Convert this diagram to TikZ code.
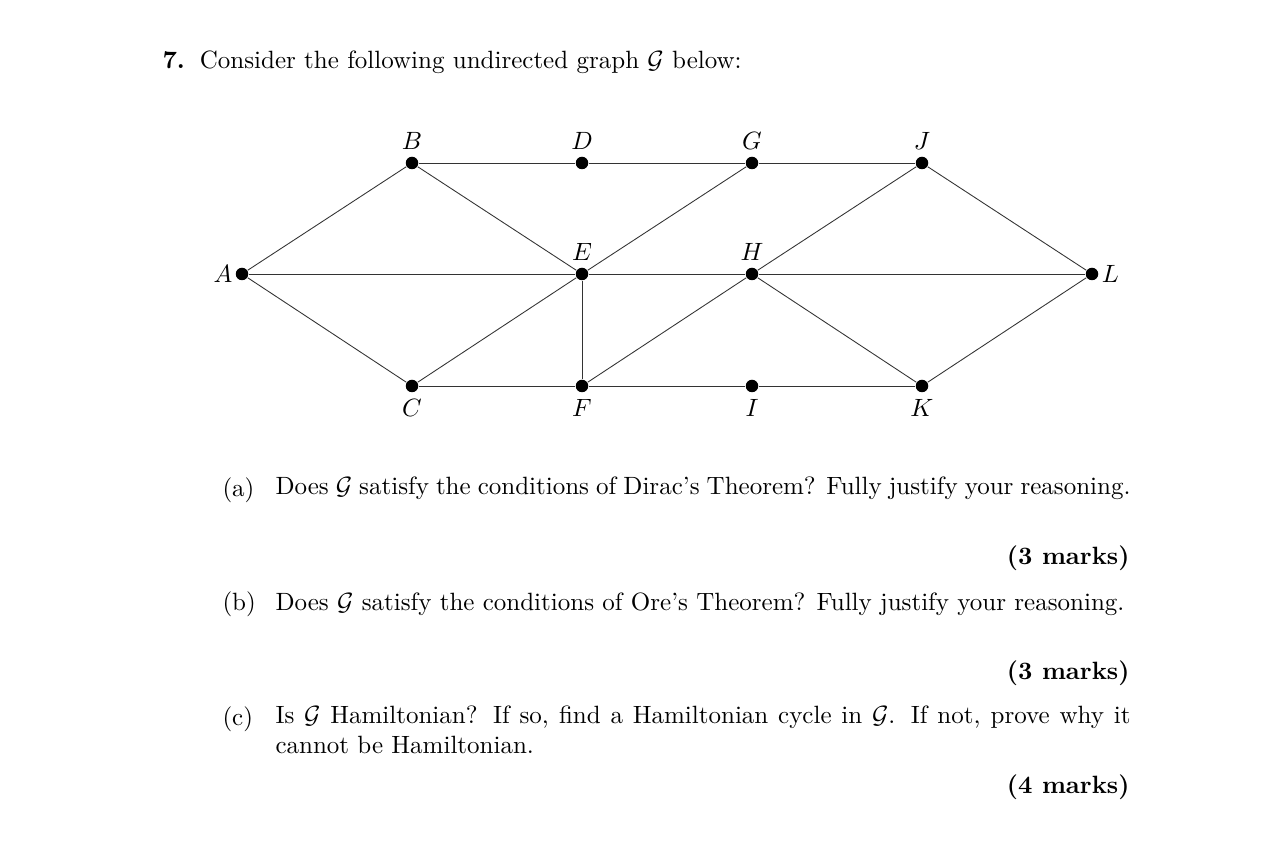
\documentclass[tikz,border=0pt]{standalone}
\usepackage{amsmath}
\begin{document}
\begin{tikzpicture}[x=0.4pt,y=-0.4pt,
  vtx/.style={circle,fill=black,inner sep=0pt,minimum size=5pt},
  edge/.style={draw=black!80,line width=0.35pt},
  txt/.style={inner sep=0pt,anchor=base west},
  para/.style={inner sep=0pt,anchor=north west,text width=342pt,align=justify}]
\useasboundingbox (0,0) rectangle (1280,857);
\foreach \n/\x/\y in {A/242/274,B/412/163,D/582/163,G/752/163,J/922/163,E/582/274,H/752/274,L/1092/274,C/412/386,F/582/386,I/752/386,K/922/386}
  \node[vtx] (\n) at (\x,\y) {};
\foreach \n in {B,D,G,J,E,H} \node[inner sep=1pt,anchor=south] (l\n) at ([yshift=1.5pt]\n.north) {$\n$};
\foreach \n in {C,F,I,K} \node[inner sep=1pt,anchor=north] (l\n) at ([yshift=-1.5pt]\n.south) {$\n$};
\node[inner sep=1pt,anchor=east] (lA) at (A.west) {$A$};
\node[inner sep=1pt,anchor=west] (lL) at (L.east) {$L$};
\foreach \a/\b in {B/D,D/G,G/J,A/B,A/E,E/H,H/L,A/C,B/E,E/G,C/E,E/F,C/F,F/H,H/J,H/K,J/L,K/L,F/I,I/K}
  \draw[edge] (\a) -- (\b);
\node[txt] (q) at (162,69) {\textbf{7.}\hspace{0.6em}Consider the following undirected graph $\mathcal{G}$ below:};
\node[txt] (la) at (222,497) {(a)};
\node[para] (pa) at (275,476) {Does $\mathcal{G}$ satisfy the conditions of Dirac's Theorem? Fully justify your reason\-ing.};
\node[txt,anchor=base east] (ma) at (1130,565) {\textbf{(3 marks)}};
\node[txt] (lb) at (222,611) {(b)};
\node[txt] (pb) at (275,611) {Does $\mathcal{G}$ satisfy the conditions of Ore's Theorem? Fully justify your reasoning.};
\node[txt,anchor=base east] (mb) at (1130,680) {\textbf{(3 marks)}};
\node[txt] (lc) at (222,726) {(c)};
\node[para] (pc) at (275,705) {Is $\mathcal{G}$ Hamiltonian? If so, find a Hamiltonian cycle in $\mathcal{G}$. If not, prove why it cannot be Hamiltonian.};
\node[txt,anchor=base east] (mc) at (1130,794) {\textbf{(4 marks)}};
\end{tikzpicture}
\end{document}
